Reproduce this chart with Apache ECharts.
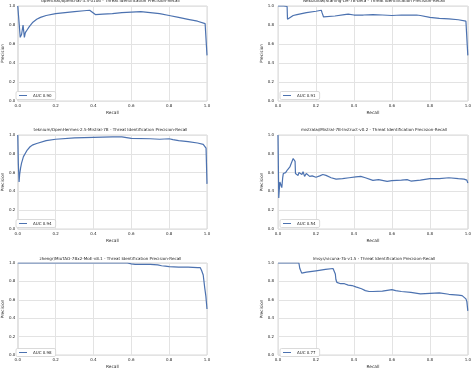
<!DOCTYPE html>
<html><head><meta charset="utf-8">
<script src="https://cdn.jsdelivr.net/npm/echarts@6/dist/echarts.min.js"></script>
<style>html,body{margin:0;padding:0;background:#fff}#c{width:474px;height:370px}</style>
</head><body><div id="c"></div>
<script>
const titles = [
  "openchat/openchat-3.5-0106 - Threat Identification Precision-Recall",
  "Nexusflow/Starling-LM-7B-beta - Threat Identification Precision-Recall",
  "teknium/OpenHermes-2.5-Mistral-7B - Threat Identification Precision-Recall",
  "mistralai/Mistral-7B-Instruct-v0.2 - Threat Identification Precision-Recall",
  "zhengr/MixTAO-7Bx2-MoE-v8.1 - Threat Identification Precision-Recall",
  "lmsys/vicuna-7b-v1.5 - Threat Identification Precision-Recall"
];
const legendNames = ["AUC 0.90", "AUC 0.91", "AUC 0.94", "AUC 0.54", "AUC 0.98", "AUC 0.77"];
const axisTicks = [0, 0.2, 0.4, 0.6, 0.8, 1.0];

const recall1 = [0, 0.005, 0.01, 0.013, 0.02, 0.028, 0.035, 0.04, 0.045, 0.05, 0.06, 0.08, 0.1, 0.12, 0.15, 0.2, 0.25, 0.3, 0.35, 0.38, 0.39, 0.41, 0.45, 0.5, 0.55, 0.6, 0.65, 0.7, 0.75, 0.8, 0.85, 0.9, 0.95, 0.99, 1.0];
const precision1 = [1.0, 1.0, 0.98, 0.67, 0.7, 0.8, 0.67, 0.72, 0.73, 0.75, 0.78, 0.83, 0.86, 0.88, 0.9, 0.92, 0.93, 0.94, 0.95, 0.955, 0.95, 0.91, 0.915, 0.92, 0.93, 0.935, 0.94, 0.93, 0.92, 0.9, 0.88, 0.86, 0.84, 0.815, 0.48];

const recall2 = [0, 0.03, 0.048, 0.05, 0.055, 0.06, 0.08, 0.1, 0.15, 0.2, 0.228, 0.232, 0.24, 0.25, 0.3, 0.35, 0.37, 0.4, 0.45, 0.5, 0.55, 0.6, 0.65, 0.7, 0.73, 0.75, 0.8, 0.85, 0.9, 0.95, 0.99, 1.0];
const precision2 = [1.0, 1.0, 0.995, 0.86, 0.875, 0.88, 0.9, 0.91, 0.93, 0.945, 0.955, 0.93, 0.885, 0.885, 0.895, 0.91, 0.915, 0.905, 0.905, 0.91, 0.905, 0.9, 0.905, 0.905, 0.905, 0.9, 0.88, 0.87, 0.865, 0.855, 0.84, 0.48];

const recall3 = [0, 0.003, 0.007, 0.01, 0.015, 0.02, 0.03, 0.05, 0.065, 0.08, 0.1, 0.15, 0.2, 0.3, 0.4, 0.5, 0.55, 0.56, 0.6, 0.7, 0.75, 0.8, 0.82, 0.85, 0.9, 0.95, 0.98, 0.99, 0.995, 1.0];
const precision3 = [1.0, 0.7, 0.5, 0.58, 0.65, 0.7, 0.77, 0.84, 0.875, 0.895, 0.91, 0.94, 0.955, 0.97, 0.975, 0.98, 0.98, 0.965, 0.965, 0.96, 0.955, 0.96, 0.95, 0.94, 0.93, 0.915, 0.9, 0.88, 0.86, 0.48];

const recall4 = [0, 0.004, 0.006, 0.01, 0.015, 0.02, 0.025, 0.028, 0.035, 0.04, 0.05, 0.0625, 0.07, 0.08, 0.083, 0.087, 0.09, 0.092, 0.096, 0.1, 0.106, 0.11, 0.115, 0.12, 0.126, 0.132, 0.14, 0.149, 0.158, 0.167, 0.18, 0.2, 0.22, 0.236, 0.253, 0.28, 0.306, 0.34, 0.375, 0.41, 0.436, 0.46, 0.5, 0.53, 0.575, 0.6, 0.65, 0.68, 0.7, 0.75, 0.8, 0.85, 0.9, 0.95, 0.98, 0.995, 1.0];
const precision4 = [1.0, 0.33, 0.4, 0.5, 0.52, 0.44, 0.55, 0.59, 0.57, 0.6, 0.63, 0.66, 0.7, 0.75, 0.77, 0.74, 0.72, 0.59, 0.61, 0.6, 0.57, 0.6, 0.58, 0.6, 0.58, 0.61, 0.56, 0.59, 0.57, 0.56, 0.565, 0.55, 0.565, 0.58, 0.57, 0.545, 0.53, 0.535, 0.545, 0.555, 0.56, 0.545, 0.518, 0.525, 0.507, 0.515, 0.52, 0.525, 0.51, 0.52, 0.535, 0.535, 0.545, 0.535, 0.53, 0.52, 0.49];

const recall5 = [0, 0.2, 0.4, 0.58, 0.6, 0.62, 0.7, 0.74, 0.76, 0.78, 0.8, 0.85, 0.9, 0.95, 0.964, 0.972, 0.98, 0.984, 0.988, 0.994, 1.0];
const precision5 = [1.0, 1.0, 1.0, 1.0, 0.99, 0.985, 0.985, 0.98, 0.97, 0.965, 0.96, 0.955, 0.955, 0.95, 0.95, 0.915, 0.87, 0.8, 0.73, 0.64, 0.5];

const recall6 = [0, 0.05, 0.11, 0.115, 0.12, 0.125, 0.13, 0.15, 0.2, 0.25, 0.29, 0.3, 0.302, 0.305, 0.31, 0.32, 0.33, 0.35, 0.37, 0.38, 0.39, 0.4, 0.41, 0.42, 0.44, 0.46, 0.48, 0.5, 0.55, 0.6, 0.62, 0.65, 0.7, 0.75, 0.8, 0.85, 0.9, 0.95, 0.97, 0.98, 0.99, 0.995, 1.0];
const precision6 = [1.0, 1.0, 1.0, 0.94, 0.93, 0.89, 0.895, 0.9, 0.915, 0.93, 0.94, 0.945, 0.88, 0.82, 0.79, 0.78, 0.775, 0.775, 0.76, 0.765, 0.755, 0.76, 0.74, 0.73, 0.72, 0.7, 0.69, 0.69, 0.695, 0.71, 0.7, 0.69, 0.68, 0.665, 0.67, 0.675, 0.66, 0.65, 0.645, 0.63, 0.61, 0.58, 0.48];

const recalls = [recall1, recall2, recall3, recall4, recall5, recall6];
const precisions = [precision1, precision2, precision3, precision4, precision5, precision6];

// layout
const cols = [{left: 14, width: 193}, {left: 278, width: 192}];
const rows = [{top: 6, height: 95, titleY: 1}, {top: 135, height: 94, titleY: 130}, {top: 263, height: 95, titleY: 259}];
const FONT = "DejaVu Sans";
const TXT = "#262626";
const LINE = "#4c72b0";

const grids = [], xAxes = [], yAxes = [], series = [], legends = [], graphics = [];
for (let i = 0; i < 6; i++) {
  const c = cols[i % 2], r = rows[Math.floor(i / 2)];
  grids.push({left: c.left, width: c.width, top: r.top, height: r.height, show: true, borderColor: "#d9d9d9", borderWidth: 1, backgroundColor: "#fff"});
  xAxes.push({
    type: "value", gridIndex: i, min: 0, max: 1, interval: 0.2,
    name: "Recall", nameLocation: "middle", nameGap: 10,
    nameTextStyle: {fontFamily: FONT, fontSize: 4.3, color: TXT},
    axisLine: {show: false}, axisTick: {show: false},
    axisLabel: {fontFamily: FONT, fontSize: 4, color: TXT, margin: 3, formatter: v => v.toFixed(1)},
    splitLine: {show: true, lineStyle: {color: "#e3e3e3", width: 1}}
  });
  yAxes.push({
    type: "value", gridIndex: i, min: 0, max: 1, interval: 0.2,
    name: "Precision", nameLocation: "middle", nameGap: i % 2 === 0 ? 11 : 13,
    nameTextStyle: {fontFamily: FONT, fontSize: 4.3, color: TXT},
    axisLine: {show: false}, axisTick: {show: false},
    axisLabel: {fontFamily: FONT, fontSize: 4, color: TXT, margin: i % 2 === 0 ? 2.5 : 4, formatter: v => v.toFixed(1)},
    splitLine: {show: true, lineStyle: {color: "#e3e3e3", width: 1}}
  });
  series.push({
    name: legendNames[i], type: "line", xAxisIndex: i, yAxisIndex: i,
    data: recalls[i].map((x, k) => [x, precisions[i][k]]),
    symbol: "none", lineStyle: {color: LINE, width: 1.2}, itemStyle: {color: LINE},
    animation: false
  });
  legends.push({
    data: [{name: legendNames[i], icon: "rect"}], left: c.left + 2, top: r.top + r.height - 9.5,
    orient: "vertical", itemWidth: 8, itemHeight: 1, itemGap: 2,
    padding: [2, 4, 2, 3], borderColor: "#d0d0d0", borderWidth: 0.8, borderRadius: 1.5,
    backgroundColor: "#fff",
    textStyle: {fontFamily: FONT, fontSize: 4, color: TXT, padding: [0, 0, 0, 1]}
  });
  graphics.push({
    type: "text", x: c.left + c.width / 2, y: r.titleY,
    style: {text: titles[i], fontFamily: FONT, fontSize: 4.1, fill: TXT, textAlign: "center", textVerticalAlign: "middle"}
  });
}

const chart = echarts.init(document.getElementById("c"), null, {renderer: "canvas"});
chart.setOption({
  backgroundColor: "#fff",
  animation: false,
  grid: grids, xAxis: xAxes, yAxis: yAxes, series: series,
  legend: legends, graphic: graphics
});
</script></body></html>
